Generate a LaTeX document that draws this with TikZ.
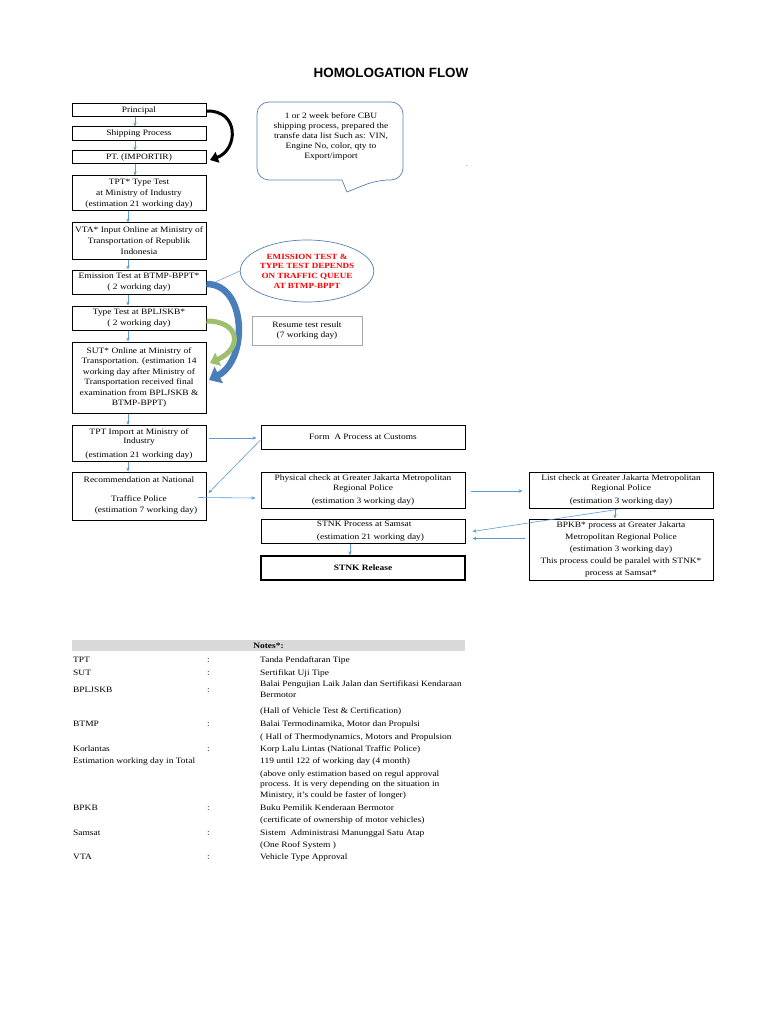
\documentclass[tikz,border=0pt]{standalone}
\usepackage{fontspec}
\setmainfont{Liberation Serif}[FakeStretch=1.15]
\newfontfamily\ttlfont{Liberation Sans}
\usetikzlibrary{arrows.meta,shapes.geometric,calc}
\definecolor{linkblue}{HTML}{5B9BD5}
\definecolor{bigblue}{HTML}{4A7EBB}
\definecolor{biggreen}{HTML}{9DBF6E}
\definecolor{ellblue}{HTML}{5A80B5}
\definecolor{notegray}{HTML}{D9D9D9}
\newcommand\bxfont{\fontsize{8.2}{11}\selectfont}
\newcommand\ntfont{\fontsize{8.2}{10}\selectfont}
\tikzset{
  box/.style={draw=black, line width=1pt, align=center, inner sep=1pt, font=\bxfont},
  lbox/.style={box, minimum width=134pt},
  mbox/.style={box, minimum width=204pt},
  rbox/.style={box, minimum width=184pt},
  conn/.style={draw=linkblue, line width=0.6pt, -{Stealth[length=4pt,width=3.4pt]}},
  note/.style={anchor=base west, inner sep=0pt, font=\ntfont},
}
\begin{document}
\begin{tikzpicture}[x=1pt,y=-1pt]
\useasboundingbox (0,0) rectangle (768,1024);
\fill[white] (0,0) rectangle (768,1024);

\node[font=\ttlfont\bfseries\fontsize{13.4}{16}\selectfont, inner sep=0pt] (title) at (391,73) {HOMOLOGATION FLOW};

% left column
\node[lbox, minimum height=13pt] (prin) at (139,110.5) {Principal};
\node[lbox, minimum height=14pt] (ship) at (139,134) {Shipping Process};
\node[lbox, minimum height=13pt] (pt) at (139,157.5) {PT. (IMPORTIR)};
\node[lbox, minimum height=35pt] (tpt) at (139,193.5) {TPT* Type Test\\at Ministry of Industry\\(estimation 21 working day)};
\node[lbox, minimum height=36pt] (vta) at (139,241) {VTA* Input Online at Ministry of\\Transportation of Republik\\Indonesia};
\node[lbox, minimum height=24pt] (emis) at (139,282) {Emission Test at BTMP-BPPT*\\( 2 working day)};
\node[lbox, minimum height=24pt] (type) at (139,318) {Type Test at BPLJSKB*\\( 2 working day)};
\node[lbox, minimum height=71pt, font=\fontsize{8.2}{10.4}\selectfont] (sut) at (139,377.5) {SUT* Online at Ministry of\\Transportation. (estimation 14\\working day after Ministry of\\Transportation received final\\examination from BPLJSKB \&\\BTMP-BPPT)};
\node[lbox, minimum height=36pt, font=\fontsize{8.2}{9.5}\selectfont] (tpti) at (139,443.5) {TPT Import at Ministry of\\Industry\\[4pt](estimation 21 working day)};
\node[lbox, minimum height=48pt] (rec) at (139,496) {Recommendation at National\\[8pt]Traffice Police\\\hspace*{14pt}(estimation 7 working day)};

% middle column
\node[mbox, minimum height=24pt] (forma) at (363,437) {\raisebox{-5pt}{Form\ \ A Process at Customs}};
\node[mbox, minimum height=36pt, font=\fontsize{8.2}{9.5}\selectfont] (phys) at (363,490) {Physical check at Greater Jakarta Metropolitan\\Regional Police\\[3.5pt](estimation 3 working day)};
\node[mbox, minimum height=24pt, align=left, font=\fontsize{8.2}{13}\selectfont] (stnk) at (363,531.5) {\hspace*{15pt}STNK Process at Samsat\\\hspace*{15pt}(estimation 21 working day)};
\node[mbox, minimum height=24pt, line width=1.4pt, font=\bxfont\bfseries] (rel) at (363,568) {STNK Release};

% right column
\node[rbox, minimum height=36pt, font=\fontsize{8.2}{9.5}\selectfont] (list) at (621,490) {List check at Greater Jakarta Metropolitan\\Regional Police\\[3.5pt](estimation 3 working day)};
\node[rbox, minimum height=61pt, font=\fontsize{8.2}{12}\selectfont] (bpkb) at (621,549.5) {BPKB* process at Greater Jakarta\\Metropolitan Regional Police\\(estimation 3 working day)\\This process could be paralel with STNK*\\process at Samsat*};

% callout
\node[align=center, inner sep=0pt, font=\fontsize{8.2}{9.8}\selectfont] (call) at (331,136.5) {1 or 2 week before CBU\\shipping process, prepared the\\transfe data list Such as: VIN,\\Engine No, color, qty to\\Export/import};
\draw[ellblue, line width=0.7pt, rounded corners=12pt] (342,180) -- (257,180) -- (257,102) -- (403,102) -- (403,180) -- (377,180) [sharp corners] -- (347,192) -- (342,180);
\node[inner sep=0pt, font=\fontsize{6}{6}\selectfont] (dot) at (467,166) {.};

% ellipse note
\node[draw=ellblue, line width=0.7pt, ellipse, minimum width=128pt, minimum height=62pt, inner sep=0pt, align=center, text=red, font=\fontsize{7.9}{9.7}\selectfont\bfseries] (ell) at (307,271) {EMISSION TEST \&\\TYPE TEST DEPENDS\\ON TRAFFIC QUEUE\\AT BTMP-BPPT};
\draw[linkblue, line width=0.5pt] (ell.west) -- ([xshift=9pt]emis.east);

% resume box
\node[draw=black!35, line width=0.8pt, minimum width=110pt, minimum height=29pt, align=center, inner sep=1pt, font=\fontsize{8.2}{10}\selectfont] (res) at (307,330.5) {Resume test result\\(7 working day)};

% curved arrows
\draw[black, line width=3pt, -{Triangle[length=8pt,width=11pt]}] ([yshift=-0.5pt]prin.east) .. controls (240,110) and (238,150) .. (210,160);
\draw[bigblue, line width=6.5pt, -{Triangle[length=11pt,width=18pt]}] ([yshift=-2pt]emis.east) .. controls (247,284) and (248,360) .. (209,380);
\draw[biggreen, line width=5pt, -{Triangle[length=9pt,width=14pt]}] ([yshift=-3pt]type.east) .. controls (240,321) and (243,348) .. (210,363);

% connectors
\draw[conn] ([xshift=-4pt]prin.south) -- ([xshift=-4pt]ship.north);
\draw[conn] ([xshift=-4pt]ship.south) -- ([xshift=-4pt]pt.north);
\draw[conn] ([xshift=-4pt]pt.south) -- ([xshift=-4pt]tpt.north);
\draw[conn] ([xshift=-11pt]tpt.south) -- ([xshift=-11pt]vta.north);
\draw[conn] ([xshift=-11pt]vta.south) -- ([xshift=-11pt]emis.north);
\draw[conn] ([xshift=-11pt]emis.south) -- ([xshift=-11pt]type.north);
\draw[conn] ([xshift=-11pt]type.south) -- ([xshift=-11pt]sut.north);
\draw[conn] ([xshift=-11pt]sut.south) -- ([xshift=-11pt]tpti.north);
\draw[conn] ([xshift=-11pt]tpti.south) -- ([xshift=-11pt]rec.north);
\draw[conn] ([xshift=2pt,yshift=5.5pt]tpti.east) -- ([xshift=-4pt,yshift=-1pt]forma.west);
\draw[conn] ([yshift=-3pt]forma.west) -- ([xshift=2pt,yshift=3pt]rec.east);
\draw[conn] ([xshift=-8pt,yshift=-1.5pt]rec.east) -- ([xshift=-5pt,yshift=-8pt]phys.west);
\draw[conn] ([xshift=5pt,yshift=-1pt]phys.east) -- ([xshift=-6pt,yshift=-1pt]list.west);
\draw[conn] ([xshift=-6pt]list.south) -- ([xshift=-6pt]bpkb.north);
\draw[conn] ([xshift=-4pt,yshift=-1pt]list.south) -- ([xshift=7pt]stnk.east);
\draw[conn] ([xshift=-4pt,yshift=11pt]bpkb.west) -- ([xshift=7pt,yshift=-7pt]stnk.east);
\draw[conn] ([xshift=-13pt]stnk.south) -- ([xshift=-13pt]rel.north);

% notes
\node[fill=notegray, minimum width=393pt, minimum height=11pt, inner sep=0pt, font=\ntfont\bfseries] (notes) at (268.5,645.5) {Notes*:};
\node[note] (k1) at (73,662) {TPT};
\node[note] (c1) at (207,662) {:};
\node[note] (v1) at (260,662) {Tanda Pendaftaran Tipe};
\node[note] (k2) at (73,675) {SUT};
\node[note] (c2) at (207,675) {:};
\node[note] (v2) at (260,675) {Sertifikat Uji Tipe};
\node[note] (k3) at (73,692) {BPLJSKB};
\node[note] (c3) at (207,692) {:};
\node[note] (v3a) at (260,686) {Balai Pengujian Laik Jalan dan Sertifikasi Kendaraan};
\node[note] (v3b) at (260,697) {Bermotor};
\node[note] (v3c) at (260,713) {(Hall of Vehicle Test \& Certification)};
\node[note] (k4) at (73,726) {BTMP};
\node[note] (c4) at (207,726) {:};
\node[note] (v4a) at (260,726) {Balai Termodinamika, Motor dan Propulsi};
\node[note] (v4b) at (260,739) {( Hall of Thermodynamics, Motors and Propulsion};
\node[note] (k5) at (73,751) {Korlantas};
\node[note] (c5) at (207,751) {:};
\node[note] (v5) at (260,751) {Korp Lalu Lintas (National Traffic Police)};
\node[note] (k6) at (73,763) {Estimation working day in Total};
\node[note] (v6a) at (260,763) {119 until 122 of working day (4 month)};
\node[note] (v6b) at (260,776) {(above only estimation based on regul approval};
\node[note] (v6c) at (260,786) {process. It is very depending on the situation in};
\node[note] (v6d) at (260,797) {Ministry, it's could be faster of longer)};
\node[note] (k7) at (73,810) {BPKB};
\node[note] (c7) at (207,810) {:};
\node[note] (v7a) at (260,810) {Buku Pemilik Kenderaan Bermotor};
\node[note] (v7b) at (260,822) {(certificate of ownership of motor vehicles)};
\node[note] (k8) at (73,835) {Samsat};
\node[note] (c8) at (207,835) {:};
\node[note] (v8a) at (260,835) {Sistem\ \ Administrasi Manunggal Satu Atap};
\node[note] (v8b) at (260,847) {(One Roof System )};
\node[note] (k9) at (73,859) {VTA};
\node[note] (c9) at (207,859) {:};
\node[note] (v9) at (260,859) {Vehicle Type Approval};
\end{tikzpicture}
\end{document}
